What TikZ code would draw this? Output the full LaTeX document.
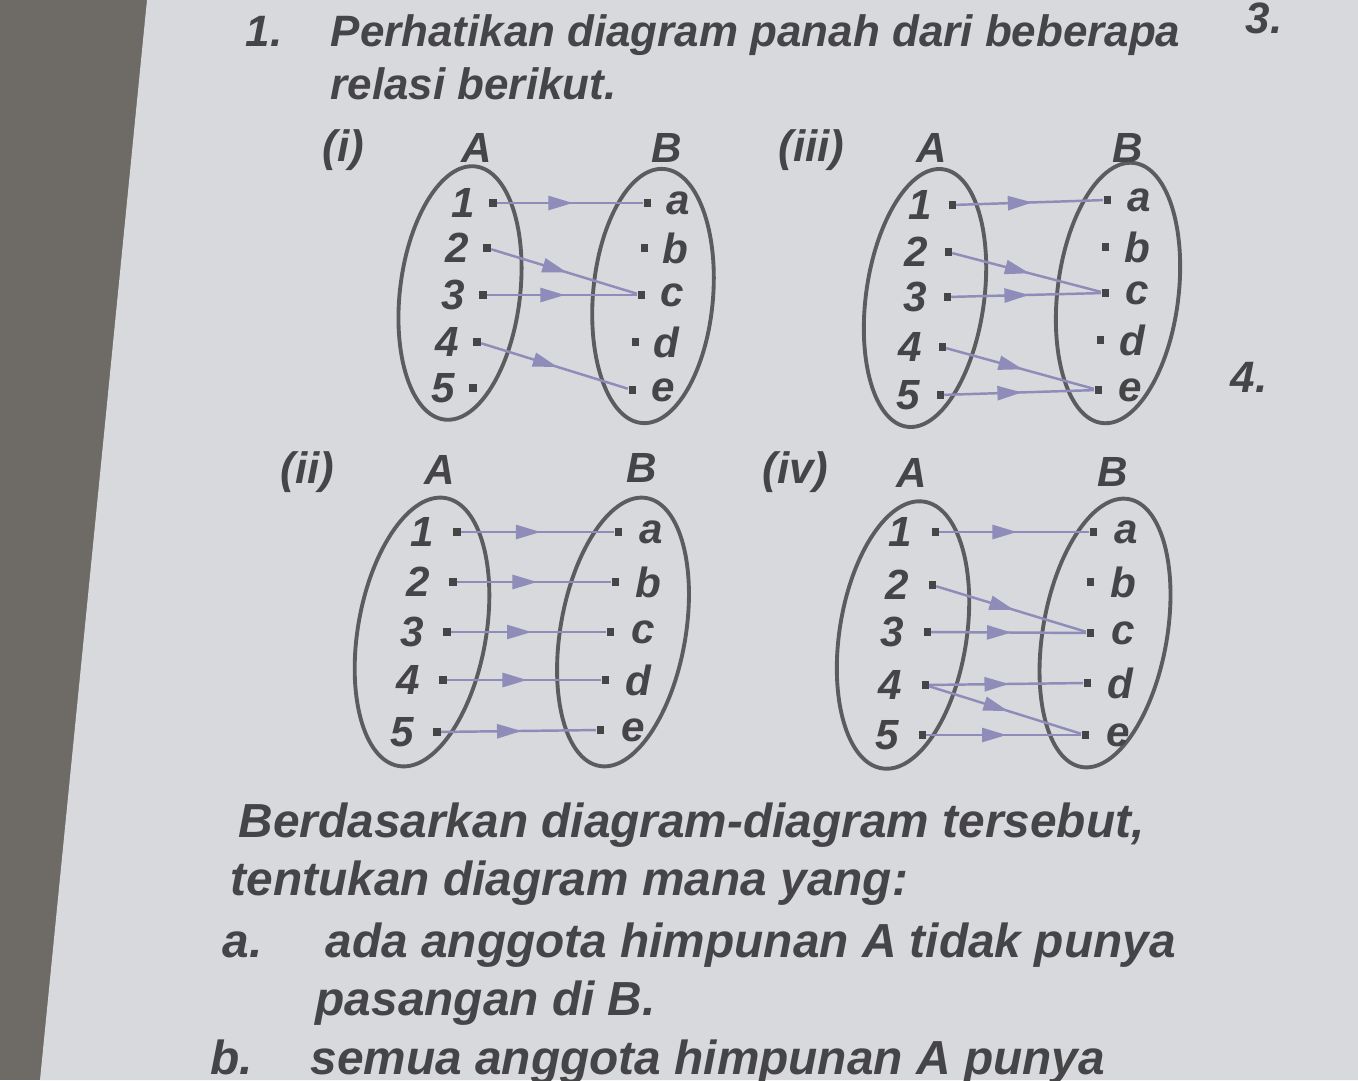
\documentclass[tikz,border=0pt]{standalone}
\usepackage{fontspec}
\setmainfont{Liberation Sans}
\usetikzlibrary{arrows.meta}
\usetikzlibrary{shapes.geometric}
\usetikzlibrary{decorations.markings}
\definecolor{pagegray}{rgb}{0.843,0.851,0.863}
\definecolor{deskgray}{rgb}{0.43,0.42,0.40}
\definecolor{inkgray}{rgb}{0.27,0.27,0.28}
\definecolor{setgray}{rgb}{0.36,0.36,0.37}
\definecolor{lavender}{rgb}{0.56,0.55,0.73}

\tikzset{
  dot/.style={fill=inkgray,inner sep=0pt,minimum size=2pt},
  elem/.style={inner sep=0pt,text=inkgray,font=\fontsize{12}{12}\selectfont\bfseries\itshape},
  setring/.style={ellipse,draw=setgray,line width=1.1pt,inner sep=0pt},
  maparrow/.style={draw=lavender,line width=0.7pt,postaction={decorate},
    decoration={markings,mark=at position 0.52 with {\arrow[lavender]{Triangle[length=7pt,width=4pt]}}}},
  body/.style={anchor=base west,inner sep=0pt,text=inkgray,font=\fontsize{12.5}{12.5}\selectfont\bfseries\itshape},
  ask/.style={body,font=\fontsize{13.6}{13.6}\selectfont\bfseries\itshape}
}

\begin{document}
\begin{tikzpicture}

\useasboundingbox (0,0) rectangle (13.58,-10.8);
\clip (0,0) rectangle (13.58,-10.8);

% desk and page
\fill [deskgray] (0,0) rectangle (13.58,-10.8);
\fill [pagegray] (1.47,0) -- (13.58,0) -- (13.58,-10.8) -- (0.40,-10.8) -- cycle;

% question text
\node [body] (qnum) at (2.45,-0.47) {1.};
\node [body] (qline1) at (3.30,-0.47) {Perhatikan diagram panah dari beberapa};
\node [body] (qline2) at (3.30,-1.00) {relasi berikut.};
\node [body] (num3) at (12.45,-0.34) {3.};
\node [body] (num4) at (12.30,-3.92) {4.};

\node [body] (lab1) at (3.22,-1.62) {(i)};
\node [body] (lab3) at (7.78,-1.62) {(iii)};
\node [body] (lab2) at (2.80,-4.83) {(ii)};
\node [body] (lab4) at (7.62,-4.83) {(iv)};

% diagram (i)
\begin{scope}[name prefix=i-]
\node [setring,minimum width=1.2cm,minimum height=2.55cm,rotate=-7] (setA) at (4.60,-2.93) {};
\node [setring,minimum width=1.2cm,minimum height=2.55cm,rotate=-5] (setB) at (6.53,-2.96) {};
\node [elem] (nameA) at (4.77,-1.48) {A};
\node [elem] (nameB) at (6.67,-1.48) {B};
\foreach \n/\x/\y in {1/4.93/2.03,2/4.87/2.48,3/4.83/2.95,4/4.77/3.42,5/4.73/3.88}
  {\node [dot] (A\n) at (\x,-\y) {}; \node [elem] (tA\n) at (\x-0.3,-\y) {\n};}
\foreach \n/\x/\y in {a/6.47/2.03,b/6.44/2.48,c/6.41/2.95,d/6.35/3.42,e/6.32/3.90}
  {\node [dot] (B\n) at (\x,-\y) {}; \node [elem] (tB\n) at (\x+0.31,-\y) {\n};}
\draw [maparrow] (A1) -- (Ba);
\draw [maparrow] (A2) -- (Bc);
\draw [maparrow] (A3) -- (Bc);
\draw [maparrow] (A4) -- (Be);
\end{scope}

% diagram (iii)
\begin{scope}[name prefix=iii-]
\node [setring,minimum width=1.18cm,minimum height=2.6cm,rotate=-8] (setA) at (9.25,-2.98) {};
\node [setring,minimum width=1.21cm,minimum height=2.62cm,rotate=-7] (setB) at (11.18,-2.93) {};
\node [elem] (nameA) at (9.32,-1.48) {A};
\node [elem] (nameB) at (11.28,-1.48) {B};
\foreach \n/\x/\y in {1/9.52/2.05,2/9.48/2.52,3/9.47/2.97,4/9.42/3.47,5/9.40/3.95}
  {\node [dot] (A\n) at (\x,-\y) {}; \node [elem] (tA\n) at (\x-0.32,-\y) {\n};}
\foreach \n/\x/\y in {a/11.07/2.00,b/11.05/2.47,c/11.05/2.93,d/11.00/3.40,e/10.98/3.90}
  {\node [dot] (B\n) at (\x,-\y) {}; \node [elem] (tB\n) at (\x+0.32,-\y) {\n};}
\draw [maparrow] (A1) -- (Ba);
\draw [maparrow] (A2) -- (Bc);
\draw [maparrow] (A3) -- (Bc);
\draw [maparrow] (A4) -- (Be);
\draw [maparrow] (A5) -- (Be);
\end{scope}

% diagram (ii)
\begin{scope}[name prefix=ii-]
\node [setring,minimum width=1.28cm,minimum height=2.72cm,rotate=-10] (setA) at (4.22,-6.32) {};
\node [setring,minimum width=1.25cm,minimum height=2.72cm,rotate=-10] (setB) at (6.23,-6.32) {};
\node [elem] (nameA) at (4.40,-4.70) {A};
\node [elem] (nameB) at (6.42,-4.68) {B};
\foreach \n/\x/\y in {1/4.57/5.32,2/4.53/5.82,3/4.47/6.32,4/4.43/6.80,5/4.37/7.32}
  {\node [dot] (A\n) at (\x,-\y) {}; \node [elem] (tA\n) at (\x-0.35,-\y) {\n};}
\foreach \n/\x/\y in {a/6.18/5.32,b/6.15/5.82,c/6.10/6.32,d/6.05/6.80,e/6.00/7.30}
  {\node [dot] (B\n) at (\x,-\y) {}; \node [elem] (tB\n) at (\x+0.33,-\y) {\n};}
\draw [maparrow] (A1) -- (Ba);
\draw [maparrow] (A2) -- (Bb);
\draw [maparrow] (A3) -- (Bc);
\draw [maparrow] (A4) -- (Bd);
\draw [maparrow] (A5) -- (Be);
\end{scope}

% diagram (iv)
\begin{scope}[name prefix=iv-]
\node [setring,minimum width=1.27cm,minimum height=2.7cm,rotate=-9] (setA) at (9.03,-6.35) {};
\node [setring,minimum width=1.24cm,minimum height=2.72cm,rotate=-10] (setB) at (11.05,-6.33) {};
\node [elem] (nameA) at (9.12,-4.73) {A};
\node [elem] (nameB) at (11.13,-4.72) {B};
\foreach \n/\x/\y in {1/9.35/5.32,2/9.32/5.85,3/9.27/6.32,4/9.25/6.85,5/9.22/7.35}
  {\node [dot] (A\n) at (\x,-\y) {}; \node [elem] (tA\n) at (\x-0.35,-\y) {\n};}
\foreach \n/\x/\y in {a/10.93/5.32,b/10.90/5.82,c/10.90/6.33,d/10.87/6.83,e/10.85/7.35}
  {\node [dot] (B\n) at (\x,-\y) {}; \node [elem] (tB\n) at (\x+0.33,-\y) {\n};}
\draw [maparrow] (A1) -- (Ba);
\draw [maparrow] (A2) -- (Bc);
\draw [maparrow] (A3) -- (Bc);
\draw [maparrow] (A4) -- (Bd);
\draw [maparrow] (A4) -- (Be);
\draw [maparrow] (A5) -- (Be);
\end{scope}

% the questions
\node [ask] (ask1) at (2.38,-8.37) {Berdasarkan diagram-diagram tersebut,};
\node [ask] (ask2) at (2.30,-8.95) {tentukan diagram mana yang:};
\node [ask] (itema) at (2.22,-9.57) {a.};
\node [ask] (itema1) at (3.25,-9.57) {ada anggota himpunan \textit{A} tidak punya};
\node [ask] (itema2) at (3.15,-10.15) {pasangan di \textit{B}.};
\node [ask] (itemb) at (2.10,-10.74) {b.};
\node [ask] (itemb1) at (3.10,-10.74) {semua anggota himpunan \textit{A} punya};

\end{tikzpicture}
\end{document}
